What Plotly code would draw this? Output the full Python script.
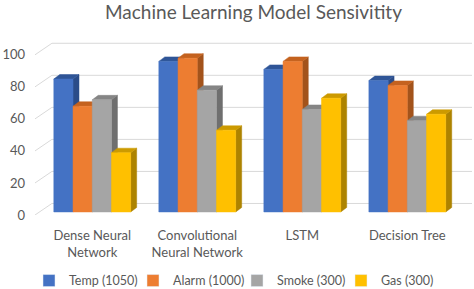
import plotly.graph_objects as go

# ---------------- data ----------------
categories = ["Dense Neural<br>Network", "Convolutional<br>Neural Network", "LSTM", "Decision Tree"]
series_names = ["Temp (1050)", "Alarm (1000)", "Smoke (300)", "Gas (300)"]
temp = [83, 94, 89, 82]
alarm = [66, 96, 94, 79]
smoke = [70, 76, 64, 57]
gas = [37, 51, 71, 61]
y_ticks = [0, 20, 40, 60, 80, 100]

# ---------------- style ----------------
front_colors = ["#4472C4", "#ED7D31", "#A5A5A5", "#FFC000"]
top_colors = ["#2F5597", "#C4621F", "#858585", "#CC9A00"]
side_colors = ["#2B4C88", "#A3531B", "#6F6F6F", "#AD8300"]
grid_color = "#D9D9D9"
text_color = "#595959"
font_family = "Lato, Carlito, Calibri, sans-serif"

X_MIN, X_MAX = -0.545, 3.616
Y_MIN, Y_MAX = 0, 108
BAR_W = 0.183          # width of each column (x units)
DEPTH_DX = 0.057       # column depth, x units
DEPTH_DY = 2.8         # column depth, y units
BASE_DY = 1.9          # columns' front face sits slightly behind the front plane
WALL_DX = 0.161        # back wall offset
WALL_DY = 7.2

series_values = [temp, alarm, smoke, gas]
n_series = len(series_values)

fig = go.Figure()

# back-wall gridlines (perspective)
gx, gy = [], []
for t in y_ticks:
    gx += [X_MIN, X_MIN + WALL_DX, X_MAX, None]
    gy += [t, t + WALL_DY, t + WALL_DY, None]
fig.add_trace(go.Scatter(x=gx, y=gy, mode="lines", line=dict(color=grid_color, width=1),
                         hoverinfo="skip", showlegend=False))

# 3D columns: for each series draw side, top and front faces
for j, vals in enumerate(series_values):
    sx, sy, tx, ty, fx, fy = [], [], [], [], [], []
    for i, v in enumerate(vals):
        xc = i + (j - (n_series - 1) / 2) * BAR_W
        xl, xr = xc - BAR_W / 2, xc + BAR_W / 2
        b = BASE_DY
        top = BASE_DY + v
        # side face
        sx += [xr, xr + DEPTH_DX, xr + DEPTH_DX, xr, xr, None]
        sy += [b, b + DEPTH_DY, top + DEPTH_DY, top, b, None]
        # top face
        tx += [xl, xl + DEPTH_DX, xr + DEPTH_DX, xr, xl, None]
        ty += [top, top + DEPTH_DY, top + DEPTH_DY, top, top, None]
        # front face
        fx += [xl, xr, xr, xl, xl, None]
        fy += [b, b, top, top, b, None]
    for px_, py_, col in ((sx, sy, side_colors[j]), (tx, ty, top_colors[j]), (fx, fy, front_colors[j])):
        fig.add_trace(go.Scatter(x=px_, y=py_, mode="lines", fill="toself", fillcolor=col,
                                 line=dict(color=col, width=0.5), hoverinfo="skip",
                                 showlegend=False))

# legend entries
for j, name in enumerate(series_names):
    fig.add_trace(go.Bar(x=[None], y=[None], name=name, marker_color=front_colors[j]))

fig.update_layout(
    width=474, height=289,
    margin=dict(l=33, r=2, t=42, b=74),
    paper_bgcolor="white", plot_bgcolor="white",
    font=dict(family=font_family, color=text_color, size=13),
    title=dict(text="Machine Learning Model Sensivitity", x=0.5, xanchor="center",
               xref="paper", yref="container", y=0.958, yanchor="middle",
               font=dict(size=19, color=text_color)),
    showlegend=True,
    legend=dict(orientation="h", x=0.5, xanchor="center", xref="container",
                yref="container", y=0.028, yanchor="middle",
                entrywidth=59, entrywidthmode="pixels", itemwidth=30,
                font=dict(size=12.5, color=text_color), traceorder="normal"),
    xaxis=dict(range=[X_MIN, X_MAX], tickmode="array", tickvals=list(range(len(categories))),
               ticktext=categories, showgrid=False, zeroline=False, showline=False,
               ticks="", ticklabelstandoff=11, tickfont=dict(size=13)),
    yaxis=dict(range=[Y_MIN, Y_MAX], tickmode="array", tickvals=y_ticks,
               showgrid=False, zeroline=False, showline=False, ticks="",
               ticklabelstandoff=9, tickfont=dict(size=13)),
)

fig.write_html("out.html")
